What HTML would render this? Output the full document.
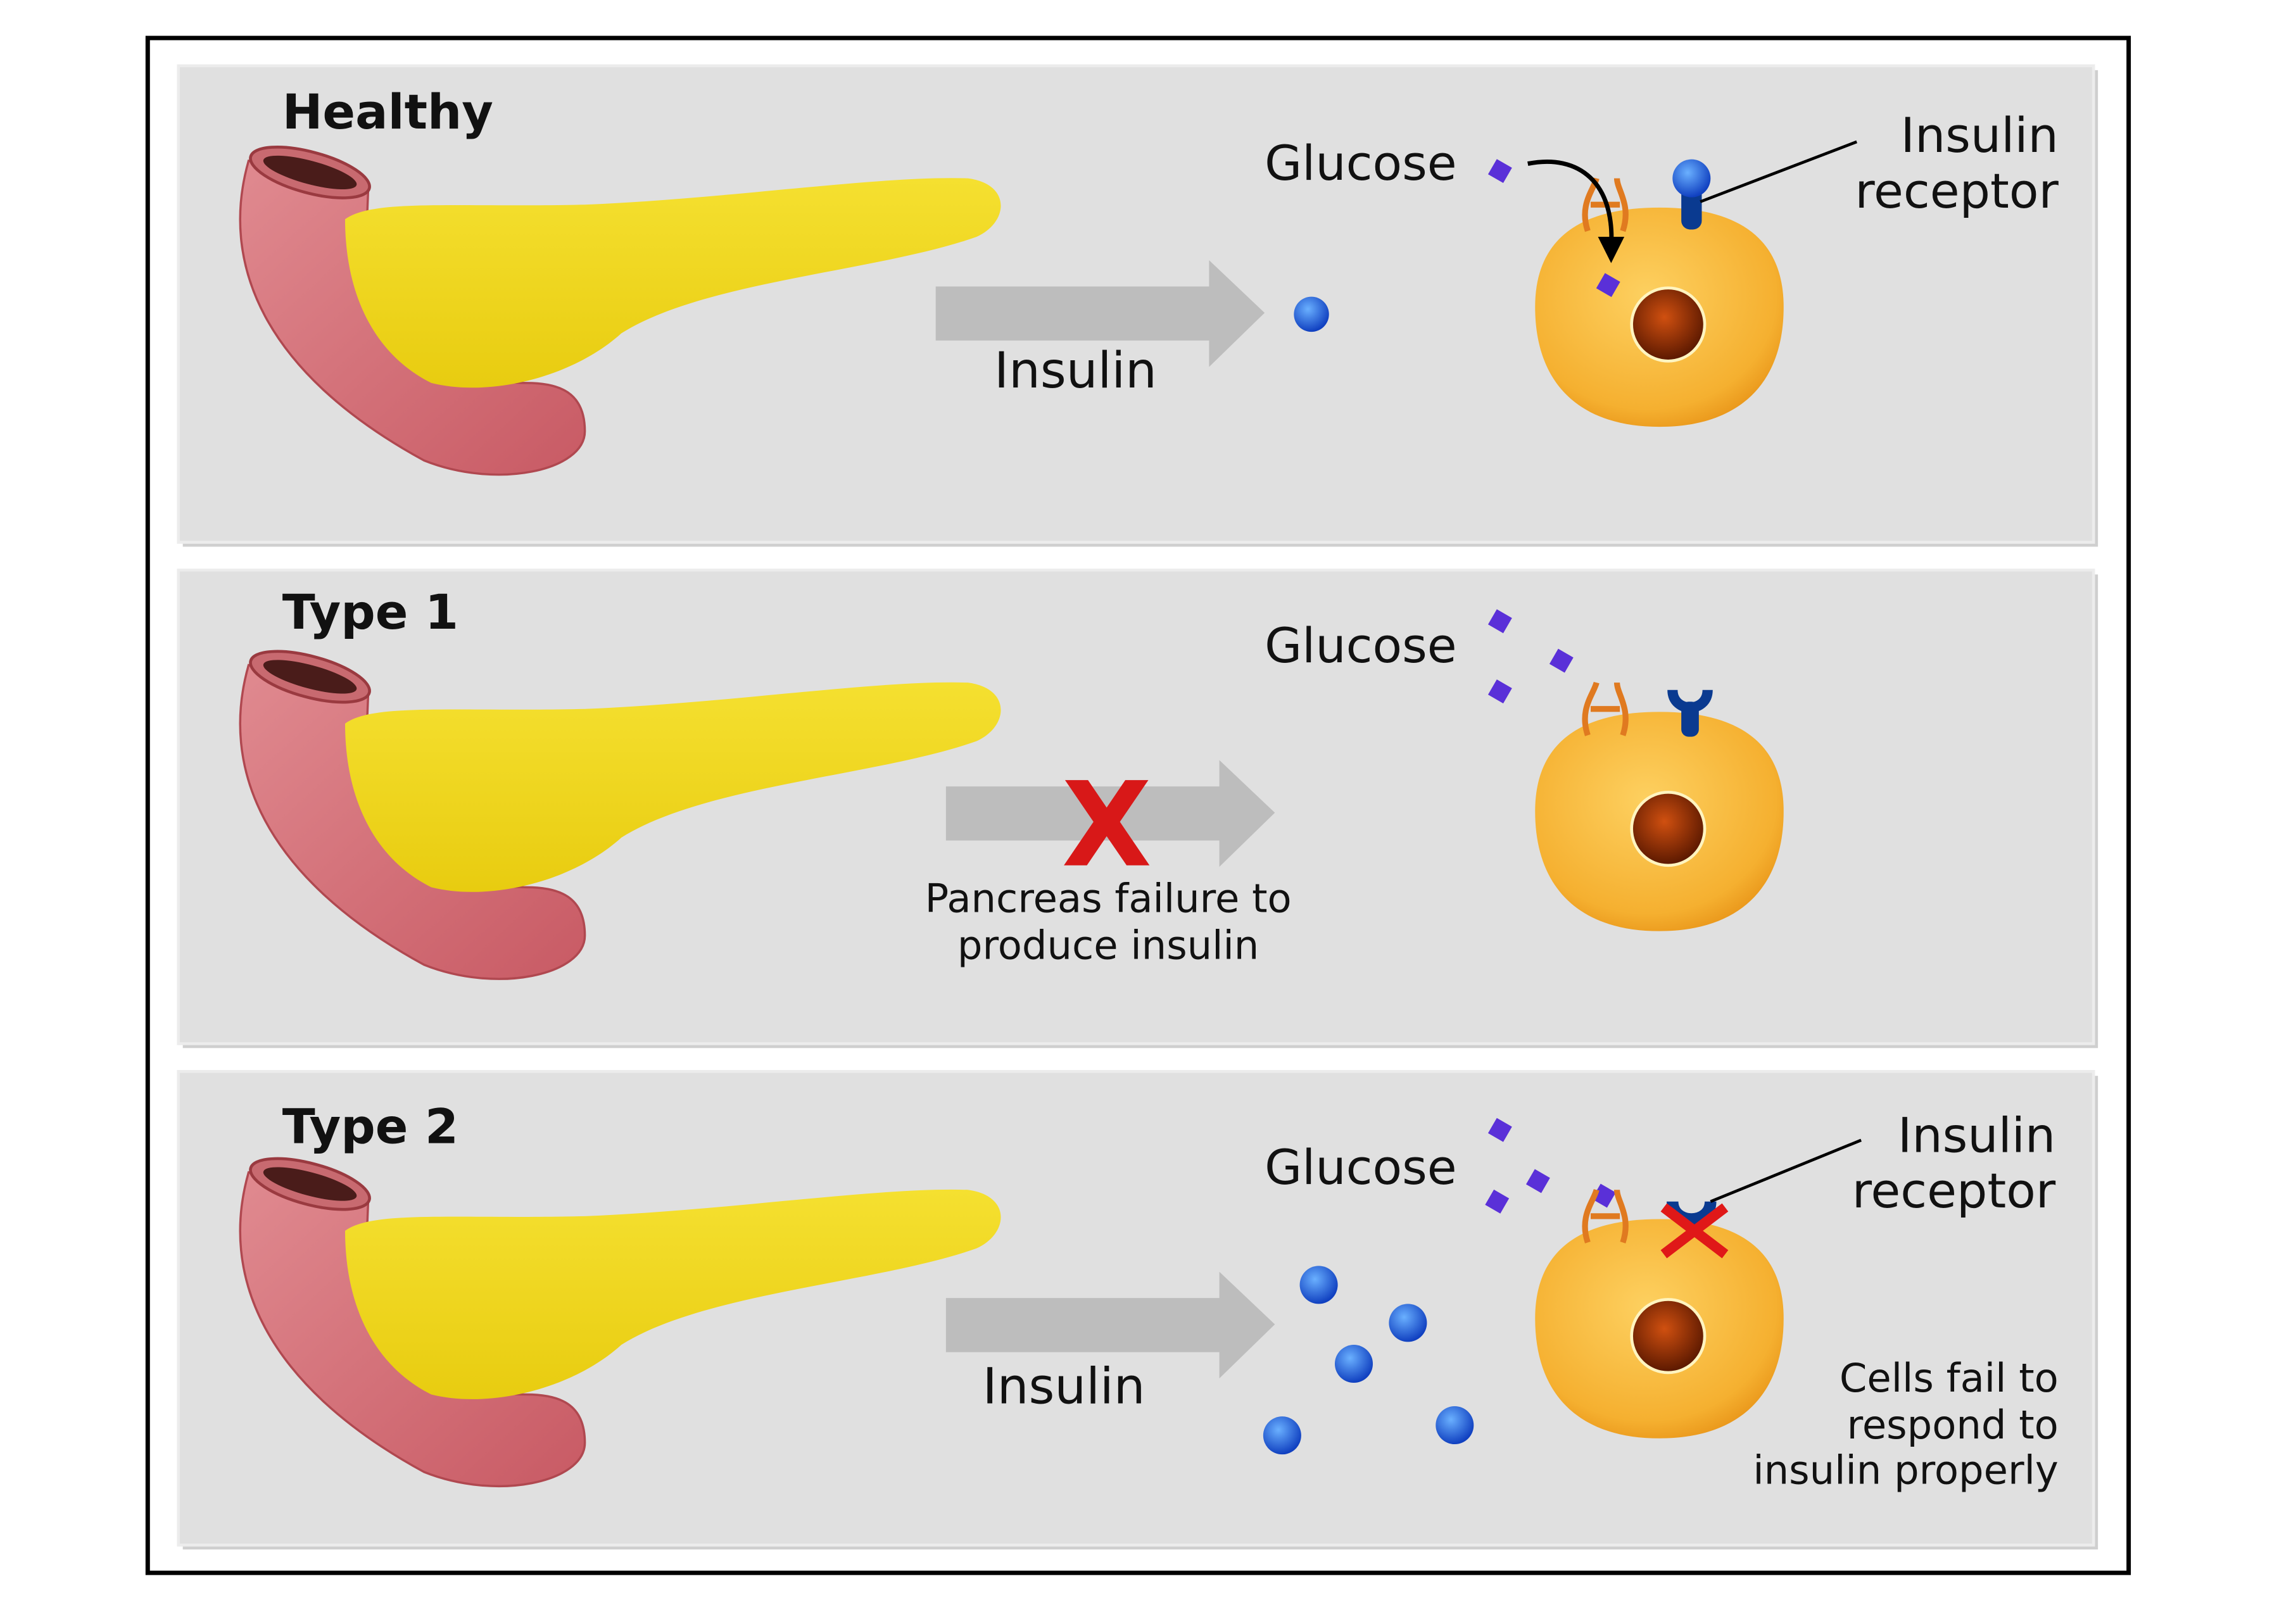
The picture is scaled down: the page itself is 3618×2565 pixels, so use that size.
<!DOCTYPE html>
<html><head><meta charset="utf-8"><style>
html,body{margin:0;padding:0;background:#fff;width:3618px;height:2565px;overflow:hidden}
svg{display:block}
text{font-family:"DejaVu Sans","Liberation Sans",sans-serif;fill:#111}
</style></head><body>
<svg width="3618" height="2565" viewBox="0 0 1567 1111" xmlns="http://www.w3.org/2000/svg">
<defs>
<radialGradient id="cell" cx="0.45" cy="0.4" r="0.65"><stop offset="0" stop-color="#fdd060"/><stop offset="0.8" stop-color="#f5b030"/><stop offset="1" stop-color="#e89418"/></radialGradient>
<radialGradient id="nuc" cx="0.45" cy="0.4" r="0.6"><stop offset="0" stop-color="#d05010"/><stop offset="1" stop-color="#5a1800"/></radialGradient>
<radialGradient id="blue" cx="0.4" cy="0.35" r="0.65"><stop offset="0" stop-color="#6ab0ff"/><stop offset="1" stop-color="#1040c0"/></radialGradient>
<linearGradient id="duo" x1="0" y1="0" x2="1" y2="1"><stop offset="0" stop-color="#e08a90"/><stop offset="1" stop-color="#c85a64"/></linearGradient>
<linearGradient id="yel" x1="0" y1="0" x2="0" y2="1"><stop offset="0" stop-color="#f5e030"/><stop offset="1" stop-color="#e8cc10"/></linearGradient>
<g id="panc">
<path d="M170,110 C150,180 180,255 290,315 C340,335 400,322 400,295 C400,268 382,262 360,262 C310,262 262,228 250,175 L252,125 Z" fill="url(#duo)" stroke="#b04850" stroke-width="1.5"/>
<ellipse cx="212" cy="118" rx="42" ry="14" transform="rotate(15 212 118)" fill="#c86a70" stroke="#9a3a40" stroke-width="2"/>
<ellipse cx="212" cy="118" rx="33" ry="8" transform="rotate(15 212 118)" fill="#4a1c1a"/>
<path d="M236,150 C255,136 310,142 400,140 C500,136 600,120 662,122 C692,126 690,152 668,162 C600,186 482,192 425,228 C392,258 335,272 295,262 C255,242 236,200 236,150 Z" fill="url(#yel)"/>
</g>
<g id="cellg">
<path d="M1050,210 C1050,158 1088,142 1135,142 C1182,142 1220,158 1220,210 C1220,262 1190,292 1135,292 C1080,292 1050,262 1050,210 Z" fill="url(#cell)"/>
<circle cx="1141" cy="222" r="25" fill="url(#nuc)" stroke="#fff4c0" stroke-width="2"/>
<path d="M1086,158 C1080,140 1090,130 1092,122 M1110,158 C1116,140 1106,130 1106,122 M1088,140 L1108,140" stroke="#e07a20" stroke-width="4" fill="none"/>
</g>
<g id="arrow"><path d="M640,196 L827,196 L827,178 L865,214 L827,251 L827,233 L640,233 Z" fill="#bdbdbd"/></g>
<g id="gl"><rect x="-6" y="-6" width="12" height="12" fill="#5a30d8" transform="rotate(30)"/></g>
</defs>
<rect x="101" y="26" width="1355" height="1050" fill="#fff" stroke="#000" stroke-width="3"/>
<g fill="#cfcfcf"><rect x="125" y="48" width="1310" height="326"/><rect x="125" y="393" width="1310" height="324"/><rect x="125" y="736" width="1310" height="324"/></g>
<g fill="#e0e0e0" stroke="#ececec" stroke-width="2"><rect x="122" y="45" width="1310" height="326"/><rect x="122" y="390" width="1310" height="324"/><rect x="122" y="733" width="1310" height="324"/></g>

<text x="193" y="88" font-size="33" font-weight="bold">Healthy</text>
<use href="#panc"/>
<use href="#arrow"/>
<text x="680" y="265" font-size="34">Insulin</text>
<circle cx="897" cy="215" r="12" fill="url(#blue)"/>
<text x="865" y="123" font-size="33">Glucose</text>
<use href="#gl" x="1026" y="117"/>
<use href="#cellg"/>
<path d="M1045,112 C1080,105 1105,125 1102,170" stroke="#000" stroke-width="3" fill="none"/>
<path d="M1093,162 L1102,180 L1111,162 Z" fill="#000"/>
<use href="#gl" x="1100" y="195"/>
<rect x="1150" y="125" width="14" height="32" rx="6" fill="#0a3a90"/>
<circle cx="1157" cy="122" r="13" fill="url(#blue)"/>
<line x1="1163" y1="138" x2="1270" y2="97" stroke="#000" stroke-width="2"/>
<text x="1408" y="104" font-size="33" text-anchor="end">Insulin</text>
<text x="1408" y="142" font-size="33" text-anchor="end">receptor</text>

<text x="193" y="430" font-size="33" font-weight="bold">Type 1</text>
<use href="#panc" y="345"/>
<use href="#arrow" x="7" y="342"/>
<text x="757" y="592" font-size="80" font-weight="bold" style="fill:#d81818" text-anchor="middle">X</text>
<text x="758" y="624" font-size="27" text-anchor="middle">Pancreas failure to</text>
<text x="758" y="656" font-size="27" text-anchor="middle">produce insulin</text>
<text x="865" y="453" font-size="33">Glucose</text>
<use href="#gl" x="1026" y="425"/><use href="#gl" x="1068" y="452"/><use href="#gl" x="1026" y="473"/>
<use href="#cellg" y="345"/>
<rect x="1150" y="480" width="12" height="24" rx="5" fill="#0a3a90"/>
<path d="M1144,472 C1144,488 1168,488 1168,472" stroke="#0a3a90" stroke-width="7" fill="none"/>

<text x="193" y="782" font-size="33" font-weight="bold">Type 2</text>
<use href="#panc" y="692"/>
<use href="#arrow" x="7" y="692"/>
<text x="672" y="960" font-size="34">Insulin</text>
<g fill="url(#blue)"><circle cx="902" cy="879" r="13"/><circle cx="963" cy="905" r="13"/><circle cx="926" cy="933" r="13"/><circle cx="877" cy="982" r="13"/><circle cx="995" cy="975" r="13"/></g>
<text x="865" y="810" font-size="33">Glucose</text>
<use href="#gl" x="1026" y="773"/><use href="#gl" x="1052" y="808"/><use href="#gl" x="1024" y="822"/><use href="#gl" x="1097" y="818"/>
<use href="#cellg" y="692"/>
<path d="M1144,822 C1144,838 1170,838 1170,822" stroke="#0a3a90" stroke-width="8" fill="none"/>
<path d="M1138,826 L1180,858 M1180,826 L1138,858" stroke="#e01818" stroke-width="7"/>
<line x1="1170" y1="822" x2="1273" y2="780" stroke="#000" stroke-width="2"/>
<text x="1406" y="788" font-size="33" text-anchor="end">Insulin</text>
<text x="1406" y="826" font-size="33" text-anchor="end">receptor</text>
<text x="1408" y="952" font-size="27" text-anchor="end">Cells fail to</text>
<text x="1408" y="984" font-size="27" text-anchor="end">respond to</text>
<text x="1408" y="1015" font-size="27" text-anchor="end">insulin properly</text>
</svg>
</body></html>
